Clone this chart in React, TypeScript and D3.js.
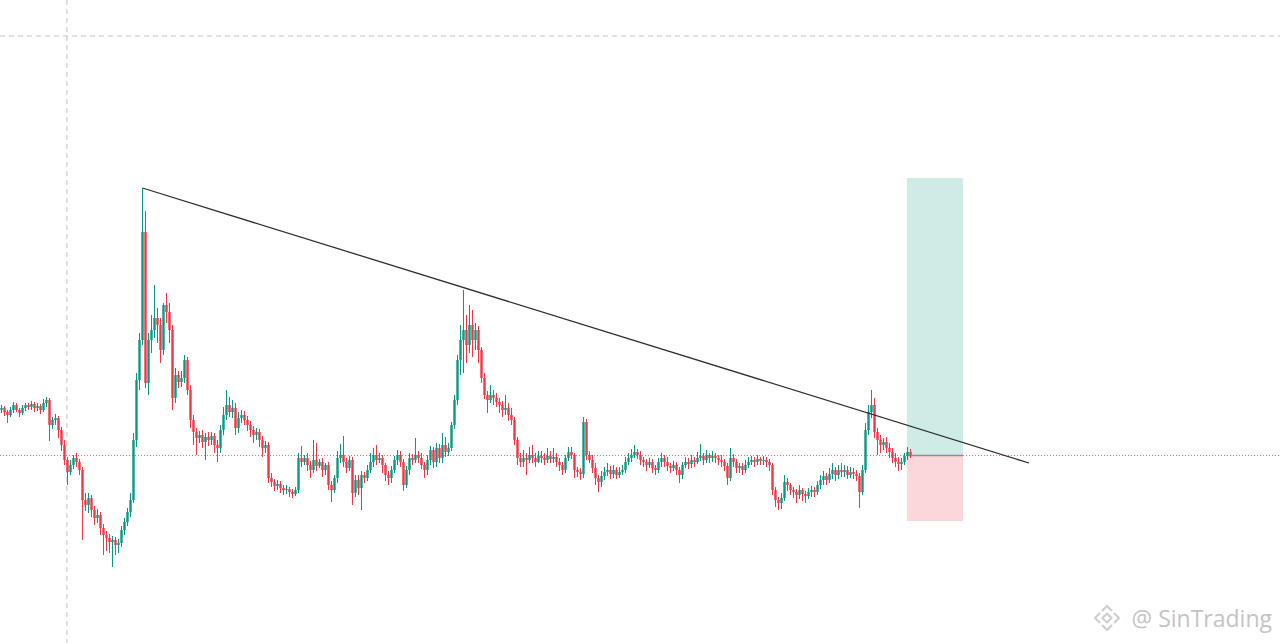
import React from "react";
import * as d3 from "d3";

const firstOpen = 233;
const closes = [
  235, 231, 228, 233, 238, 233, 230, 235, 238, 236,
  239, 235, 237, 233, 240, 243, 218, 223, 225, 213,
  198, 183, 171, 178, 185, 181, 173, 143, 138, 145,
  133, 125, 128, 115, 108, 105, 101, 103, 98, 100,
  113, 121, 131, 143, 203, 263, 303, 411, 260, 303,
  313, 325, 318, 293, 338, 331, 313, 245, 268, 261,
  265, 283, 253, 223, 211, 205, 208, 201, 206, 203,
  207, 198, 195, 213, 228, 238, 231, 235, 215, 225,
  228, 223, 218, 213, 208, 211, 203, 195, 198, 165,
  161, 157, 159, 155, 153, 154, 151, 149, 153, 185,
  181, 185, 178, 173, 183, 177, 181, 173, 178, 158,
  153, 165, 185, 188, 181, 175, 183, 150, 163, 155,
  168, 165, 173, 181, 188, 183, 185, 178, 168, 165,
  173, 183, 188, 181, 158, 173, 185, 183, 188, 185,
  178, 173, 183, 193, 181, 195, 185, 198, 191, 195,
  218, 243, 283, 303, 313, 298, 318, 303, 313, 293,
  265, 248, 243, 248, 245, 241, 238, 233, 235, 228,
  223, 203, 185, 181, 185, 183, 188, 185, 181, 187,
  185, 183, 187, 184, 186, 181, 178, 173, 185, 191,
  188, 173, 171, 169, 221, 188, 183, 175, 165, 161,
  167, 171, 173, 169, 173, 168, 171, 173, 181, 185,
  188, 191, 188, 183, 181, 178, 181, 175, 173, 181,
  185, 181, 177, 175, 178, 173, 168, 178, 181, 179,
  183, 181, 185, 187, 183, 188, 185, 187, 185, 183,
  181, 177, 165, 185, 181, 175, 177, 173, 178, 181,
  183, 181, 184, 182, 183, 181, 178, 153, 143, 140,
  145, 161, 158, 153, 151, 148, 153, 149, 147, 151,
  153, 151, 158, 163, 167, 163, 169, 173, 168, 173,
  171, 173, 168, 171, 169, 167, 151, 173, 213, 231,
  238, 211, 203, 198, 201, 195, 191, 185, 181, 179,
  181, 187, 191, 188,
];
const highs = [
  238, 237, 233, 236, 241, 240, 235, 238, 240, 240,
  242, 241, 240, 239, 244, 246, 245, 226, 229, 227,
  216, 203, 186, 183, 188, 190, 184, 176, 150, 150,
  148, 137, 134, 131, 119, 112, 109, 107, 106, 104,
  117, 125, 135, 150, 210, 270, 310, 455, 432, 310,
  328, 358, 335, 325, 340, 350, 340, 318, 275, 272,
  272, 288, 286, 258, 228, 215, 212, 213, 210, 211,
  211, 210, 203, 218, 236, 253, 246, 243, 240, 231,
  233, 232, 227, 222, 217, 215, 214, 207, 202, 201,
  170, 164, 163, 162, 158, 158, 156, 154, 156, 190,
  197, 188, 190, 182, 203, 200, 184, 185, 180, 181,
  162, 168, 192, 199, 207, 185, 187, 186, 168, 168,
  172, 171, 178, 190, 195, 198, 190, 188, 180, 172,
  177, 187, 193, 192, 184, 177, 190, 189, 205, 192,
  190, 181, 188, 197, 196, 200, 199, 210, 206, 200,
  221, 248, 288, 318, 353, 328, 338, 333, 320, 317,
  296, 270, 252, 258, 253, 250, 245, 242, 248, 240,
  235, 226, 206, 190, 193, 190, 196, 198, 190, 192,
  192, 190, 195, 192, 195, 190, 185, 181, 188, 196,
  196, 190, 176, 175, 226, 224, 192, 188, 180, 168,
  172, 176, 180, 177, 178, 176, 176, 178, 186, 190,
  194, 198, 194, 192, 186, 184, 185, 184, 178, 185,
  190, 188, 186, 180, 182, 181, 176, 181, 186, 185,
  188, 186, 191, 199, 190, 193, 190, 192, 190, 188,
  188, 184, 180, 195, 189, 184, 180, 180, 183, 186,
  187, 186, 188, 186, 187, 186, 184, 180, 156, 146,
  150, 168, 165, 160, 156, 154, 158, 155, 152, 155,
  157, 156, 162, 168, 172, 170, 175, 180, 176, 178,
  180, 178, 177, 176, 175, 173, 170, 178, 220, 238,
  253, 245, 215, 208, 205, 206, 200, 195, 190, 186,
  185, 190, 196, 194,
];
const lows = [
  230, 227, 220, 226, 230, 231, 226, 228, 232, 233,
  233, 231, 232, 229, 231, 236, 202, 214, 218, 205,
  192, 178, 158, 168, 174, 176, 168, 103, 132, 130,
  126, 118, 120, 108, 88, 92, 90, 76, 88, 90,
  96, 108, 117, 126, 140, 196, 253, 298, 255, 248,
  290, 305, 300, 280, 288, 320, 300, 233, 240, 255,
  256, 260, 248, 215, 198, 188, 200, 195, 183, 197,
  198, 190, 181, 190, 208, 223, 226, 225, 208, 210,
  220, 218, 212, 206, 200, 203, 196, 186, 190, 160,
  156, 152, 153, 150, 148, 149, 146, 145, 147, 150,
  176, 178, 172, 165, 170, 172, 175, 166, 168, 153,
  141, 150, 160, 180, 176, 170, 172, 138, 146, 148,
  133, 160, 162, 170, 176, 178, 180, 170, 162, 158,
  160, 170, 178, 176, 152, 155, 168, 178, 180, 180,
  174, 165, 168, 178, 175, 176, 180, 180, 186, 187,
  192, 214, 238, 268, 270, 280, 290, 286, 293, 280,
  260, 244, 230, 240, 238, 236, 230, 226, 228, 222,
  218, 198, 178, 176, 176, 168, 180, 180, 176, 180,
  180, 178, 180, 180, 180, 176, 172, 168, 170, 182,
  184, 165, 166, 163, 165, 183, 180, 170, 158, 151,
  156, 163, 167, 164, 165, 164, 165, 168, 170, 178,
  181, 185, 184, 178, 176, 172, 175, 170, 168, 170,
  176, 176, 172, 170, 172, 168, 160, 164, 175, 174,
  175, 176, 179, 182, 178, 180, 180, 181, 180, 178,
  176, 172, 158, 162, 176, 170, 170, 168, 170, 175,
  178, 176, 178, 178, 178, 176, 172, 148, 136, 133,
  134, 142, 152, 148, 145, 140, 144, 142, 140, 144,
  146, 146, 148, 154, 158, 158, 160, 164, 162, 164,
  166, 166, 164, 165, 164, 162, 135, 148, 170, 208,
  225, 205, 188, 190, 193, 190, 185, 180, 176, 172,
  173, 178, 183, 185,
];

// trendline anchors: [candle index, price]
const trendStart = [47, 455];
const trendEnd = [342.5, 180];
// long position tool: index range and prices
const positionIdx = [301.8, 320.5];
const positionPrices = { target: 465, entry: 188, stop: 122 };
// crosshair (dashed grey)
const crosshair = { index: 21.8, price: 607 };
const lastPrice = 188;

const W = 1280;
const H = 643;
const UP = "#089981";
const DOWN = "#f23645";

export default function App() {
  const n = closes.length;
  const x = d3.scaleLinear().domain([0, n - 1]).range([1.5, 910.5]);
  const y = d3.scaleLinear().domain([76, 455]).range([567, 188]);
  const candles = closes.map((c, i) => {
    const o = i === 0 ? firstOpen : closes[i - 1];
    return { i, o, c, h: highs[i], l: lows[i] };
  });
  const bw = 2.4;
  const px0 = x(positionIdx[0]);
  const px1 = x(positionIdx[1]);
  const ly = Math.round(y(lastPrice)) + 0.5;

  return (
    <svg
      width={W}
      height={H}
      style={{ position: "absolute", left: 0, top: 0, display: "block", background: "#fff" }}
    >
      <rect x={0} y={0} width={W} height={H} fill="#ffffff" />
      {/* crosshair */}
      <line x1={0} x2={W} y1={y(crosshair.price)} y2={y(crosshair.price)} stroke="#c2c2c2" strokeDasharray="5,4" strokeWidth={1} />
      <line x1={x(crosshair.index)} x2={x(crosshair.index)} y1={0} y2={H} stroke="#c2c2c2" strokeDasharray="5,4" strokeWidth={1} />
      {/* position tool */}
      <rect x={px0} width={px1 - px0} y={y(positionPrices.target)} height={y(positionPrices.entry) - y(positionPrices.target)} fill="rgba(8,153,129,0.2)" />
      <rect x={px0} width={px1 - px0} y={y(positionPrices.entry)} height={y(positionPrices.stop) - y(positionPrices.entry)} fill="rgba(242,54,69,0.2)" />
      {/* last price line */}
      <line x1={0} x2={W} y1={ly} y2={ly} stroke="#f0737c" strokeDasharray="1,2" strokeWidth={1} />
      <line x1={px0} x2={px1} y1={ly} y2={ly} stroke="#8a8d96" strokeWidth={1.4} />
      {/* candles */}
      <g>
        {candles.map((d) => {
          const col = d.c >= d.o ? UP : DOWN;
          const cx = x(d.i);
          const top = y(Math.max(d.o, d.c));
          const bot = y(Math.min(d.o, d.c));
          return (
            <g key={d.i}>
              <line x1={cx} x2={cx} y1={y(d.h)} y2={y(d.l)} stroke={col} strokeWidth={1} />
              <rect x={cx - bw / 2} width={bw} y={top} height={Math.max(1, bot - top)} fill={col} />
            </g>
          );
        })}
      </g>
      {/* trendline */}
      <line
        x1={x(trendStart[0])}
        y1={y(trendStart[1])}
        x2={x(trendEnd[0])}
        y2={y(trendEnd[1])}
        stroke="#2f2f2f"
        strokeWidth={1.3}
      />
      {/* watermark */}
      <g fill="none" stroke="#cfcfcf" strokeWidth={2.2} strokeLinejoin="round" transform="translate(1107,618)">
        <path d="M0,-4.5 L4.5,0 L0,4.5 L-4.5,0 Z" />
        <path d="M-5,-7 L0,-12 L5,-7" />
        <path d="M-5,7 L0,12 L5,7" />
        <path d="M-7,-5 L-12,0 L-7,5" />
        <path d="M7,-5 L12,0 L7,5" />
      </g>
      <text x={1272} y={627} textAnchor="end" fontFamily="'Open Sans', sans-serif" fontSize={23} fill="#c4c4c4">
        @ SinTrading
      </text>
    </svg>
  );
}
